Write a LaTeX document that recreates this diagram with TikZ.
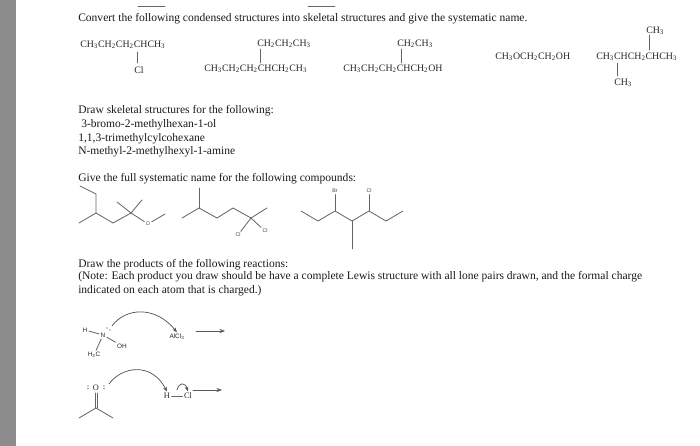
\documentclass[tikz,border=0pt]{standalone}
\usepackage{fontspec}
\setmainfont{Liberation Serif}
\setsansfont{Liberation Sans}
\usetikzlibrary{arrows.meta}
\tikzset{
  body/.style={anchor=west,yshift=-1pt,font=\fontsize{8.3pt}{10pt}\selectfont,text=black!90,inner sep=0pt},
  chem/.style={anchor=west,yshift=-0.7pt,font=\fontsize{7.1pt}{8pt}\selectfont,text=black!85,inner sep=0pt},
  atom/.style={font=\sffamily\fontsize{4.6pt}{6pt}\selectfont,text=black!85,inner sep=1pt},
  tiny/.style={font=\sffamily\fontsize{3.8pt}{5pt}\selectfont,text=black!75,inner sep=1pt},
  bigatom/.style={font=\fontsize{6pt}{7pt}\selectfont,text=black!85,inner sep=1pt},
  bond/.style={draw=black!60,line width=0.6pt},
  curly/.style={draw=black!70,line width=0.5pt,-{Stealth[length=3.5pt,width=2.6pt]}},
  rxn/.style={draw=black!65,line width=0.5pt,-{Stealth[length=4pt,width=3pt]}},
  lone/.style={fill=black!80,circle,inner sep=0pt,minimum size=0.9pt}
}
\newcommand{\sbs}[1]{\textsubscript{#1}}
\begin{document}
\begin{tikzpicture}[x=0.72pt,y=-0.72pt,line cap=round,line join=round]
\useasboundingbox (0,0) rectangle (700,446);
\fill[black!45] (0,0) rectangle (15.5,446);
% rules over the title
\draw[bond] (138,6) -- (165,6);
\draw[bond] (308,6) -- (335,6);
\node[body] (title) at (78,17) {Convert the following condensed structures into skeletal structures and give the systematic name.};
% condensed structures
\node[chem] (a1) at (80,44) {CH\sbs{3}CH\sbs{2}CH\sbs{2}CHCH\sbs{3}};
\node[chem] (a2) at (134,69) {Cl};
\draw[bond] (137,52) -- (137,63);
\node[chem] (b1) at (257,43) {CH\sbs{2}CH\sbs{2}CH\sbs{3}};
\node[chem] (b2) at (204,68) {CH\sbs{3}CH\sbs{2}CH\sbs{2}CHCH\sbs{2}CH\sbs{3}};
\draw[bond] (260,49) -- (260,63);
\node[chem] (c1) at (397,43) {CH\sbs{2}CH\sbs{3}};
\node[chem] (c2) at (343,68) {CH\sbs{3}CH\sbs{2}CH\sbs{2}CHCH\sbs{2}OH};
\draw[bond] (401,49) -- (401,63);
\node[chem] (d1) at (495,56) {CH\sbs{3}OCH\sbs{2}CH\sbs{2}OH};
\node[chem] (e1) at (646,30) {CH\sbs{3}};
\node[chem] (e2) at (596,56) {CH\sbs{3}CHCH\sbs{2}CHCH\sbs{3}};
\node[chem] (e3) at (614,82) {CH\sbs{3}};
\draw[bond] (649,35) -- (649,50);
\draw[bond] (617,63) -- (617,76);
% questions
\node[body] (p1) at (78,109) {Draw skeletal structures for the following:};
\node[body] (p2) at (81,123) {3-bromo-2-methylhexan-1-ol};
\node[body] (p3) at (78,137) {1,1,3-trimethylcylcohexane};
\node[body] (p4) at (78,150) {N-methyl-2-methylhexyl-1-amine};
\node[body] (p5) at (78,177) {Give the full systematic name for the following compounds:};
% first compound
\node[tiny] (o1) at (148,224) {O};
\draw[bond] (80,186) -- (96,194) -- (96,213) -- (113,223) -- (131,213) -- (o1) -- (165,214);
\draw[bond] (96,213) -- (79,223);
\draw[bond] (117,202) -- (131,213) -- (142,200);
% second compound
\node[tiny] (cl1) at (238,235) {Cl};
\node[tiny] (cl2) at (265,231) {Cl};
\draw[bond] (182,218) -- (199,208) -- (217,218) -- (233,208) -- (251,218) -- (267,208);
\draw[bond] (199,188) -- (199,208);
\draw[bond] (251,218) -- (cl1);
\draw[bond] (251,218) -- (cl2);
% third compound
\node[tiny] (br3) at (335,191) {Br};
\node[tiny] (cl3) at (369,191) {Cl};
\draw[bond] (301,211) -- (318,221) -- (335,211) -- (352,221) -- (369,211) -- (386,221) -- (403,211);
\draw[bond] (335,211) -- (br3);
\draw[bond] (369,211) -- (cl3);
\draw[bond] (352,221) -- (352,249);
% reactions
\node[body] (p6) at (78,263) {Draw the products of the following reactions:};
\node[body] (p7) at (78,275) {(Note: Each product you draw should be have a complete Lewis structure with all lone pairs drawn, and the formal charge};
\node[body] (p8) at (78,289) {indicated on each atom that is charged.)};
% first reaction
\node[atom] (n) at (103,335) {N};
\node[atom] (h) at (85,330) {H};
\node[atom] (oh) at (122,346) {OH};
\node[atom] (hc) at (94,355) {H\sbs{3}C};
\node[atom] (alcl) at (177,337) {AlCl\sbs{3}};
\draw[bond] (h) -- (n);
\draw[bond] (n) -- (oh);
\draw[bond] (n) -- (hc);
\node[lone] (np1) at (107,328) {};
\node[lone] (np2) at (110,330) {};
\coordinate (nfrom) at (112,326);
\draw[curly] (nfrom) .. controls (125,308) and (155,305) .. (alcl.north);
\coordinate (r1a) at (196,331);
\coordinate (r1b) at (225,331);
\draw[rxn] (r1a) -- (r1b);
% second reaction
\node[bigatom] (ox) at (96,388) {O};
\foreach \px/\py in {88/386,88/388.5,104/386,104/388.5}
  \node[lone] at (\px,\py) {};
\draw[bond] (95,393) -- (95,408);
\draw[bond] (97.5,393) -- (97.5,408);
\draw[bond] (79,418) -- (96,408) -- (113,418);
\coordinate (oxfrom) at (109,384);
\node[bigatom] (hh) at (167,396) {H};
\node[bigatom] (cl) at (188,396) {Cl};
\draw[curly] (oxfrom) .. controls (122,366) and (152,362) .. (hh.north);
\draw[bond] (hh) -- (cl);
\draw[curly] (177,390) .. controls (179,382) and (185,382) .. (cl.north);
\coordinate (r2a) at (193,390);
\coordinate (r2b) at (222,390);
\draw[rxn] (r2a) -- (r2b);
\end{tikzpicture}
\end{document}
